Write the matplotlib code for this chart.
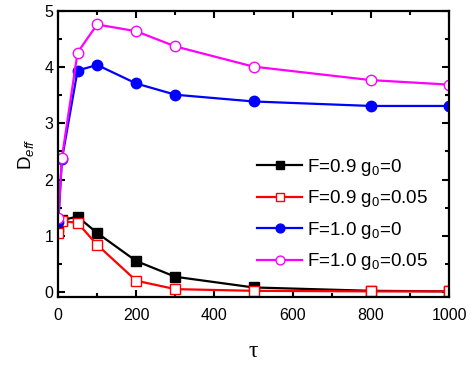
import matplotlib
matplotlib.use("Agg")
import matplotlib.pyplot as plt
from matplotlib.ticker import MultipleLocator

plt.rcParams['font.family'] = ['Liberation Sans', 'DejaVu Sans']
plt.rcParams['mathtext.fontset'] = 'custom'
plt.rcParams['mathtext.rm'] = 'Liberation Sans'
plt.rcParams['mathtext.it'] = 'Liberation Sans:italic'
plt.rcParams['mathtext.bf'] = 'Liberation Sans:bold'

tau = [1, 10, 50, 100, 200, 300, 500, 800, 1000]
d_f09_g0 = [1.15, 1.28, 1.34, 1.05, 0.55, 0.27, 0.08, 0.02, 0.01]
d_f09_g005 = [1.05, 1.26, 1.23, 0.84, 0.20, 0.05, 0.02, 0.01, 0.01]
d_f10_g0 = [1.25, 2.36, 3.94, 4.04, 3.71, 3.51, 3.39, 3.31, 3.31]
d_f10_g005 = [1.31, 2.39, 4.26, 4.76, 4.64, 4.37, 4.01, 3.77, 3.69]
labels = ["F=0.9 g$_0$=0", "F=0.9 g$_0$=0.05", "F=1.0 g$_0$=0", "F=1.0 g$_0$=0.05"]

fig = plt.figure(figsize=(4.74, 3.65), dpi=100)
ax = fig.add_axes([58/474, 1-297/365, (449-58)/474, (297-11)/365])

lw = 1.6
ax.plot(tau, d_f09_g0, color='black', marker='s', ms=6.5, lw=lw, mfc='black', mec='black', label=labels[0])
ax.plot(tau, d_f09_g005, color='red', marker='s', ms=6.5, lw=lw, mfc='white', mec='red', mew=1.0, label=labels[1])
ax.plot(tau, d_f10_g0, color='blue', marker='o', ms=7.5, lw=lw, mfc='blue', mec='blue', label=labels[2])
ax.plot(tau, d_f10_g005, color='magenta', marker='o', ms=7.5, lw=lw, mfc='white', mec='magenta', mew=1.0, label=labels[3])

ax.set_xlim(0, 1000)
ax.set_ylim(-0.09, 5)
ax.xaxis.set_major_locator(MultipleLocator(200))
ax.xaxis.set_minor_locator(MultipleLocator(100))
ax.yaxis.set_major_locator(MultipleLocator(1))
ax.yaxis.set_minor_locator(MultipleLocator(0.5))
ax.tick_params(which='both', direction='in', top=True, right=True, width=1.5, labelsize=11.5)
ax.tick_params(which='major', length=5)
ax.tick_params(which='minor', length=3)
ax.tick_params(axis='x', pad=8)
for s in ax.spines.values():
    s.set_linewidth(1.6)

ax.set_xlabel('τ', fontsize=17, family=['Liberation Serif', 'DejaVu Serif'], labelpad=13)
ax.set_ylabel('D$_{eff}$', fontsize=13.5, labelpad=6)

leg = ax.legend(loc='upper left', bbox_to_anchor=(0.51, 0.49), frameon=False,
                fontsize=13.5, handlelength=2.4, handletextpad=0.25, labelspacing=0.56,
                borderpad=0, borderaxespad=0, markerscale=0.85)

fig.savefig('out.png', dpi=100)
